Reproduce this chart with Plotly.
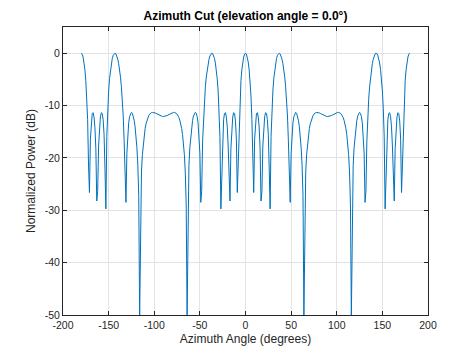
import plotly.graph_objects as go

# Azimuth angles, 1-degree grid from -180 to 180
azimuth_deg = list(range(-180, 181))

# Normalized power (dB) read per degree
power_db = [
    # -180 .. -90
    0.00, -0.18, -0.74, -1.71, -3.16, -5.22, -8.16, -12.67, -21.55, -26.61,
    -16.41, -12.97, -11.55, -11.36, -12.20, -14.26, -18.26, -28.23, -26.36, -17.74,
    -14.05, -12.15, -11.36, -11.51, -12.72, -15.50, -22.10, -29.74, -15.93, -10.56,
    -7.21, -4.86, -3.15, -1.89, -1.00, -0.41, -0.08, 0.00, -0.15, -0.53,
    -1.15, -2.01, -3.14, -4.58, -6.42, -8.80, -11.99, -16.74, -26.29, -28.49,
    -19.09, -15.35, -13.29, -12.11, -11.49, -11.30, -11.48, -11.99, -12.83, -14.06,
    -15.74, -18.06, -21.44, -27.19, -50.26, -28.83, -22.69, -19.35, -17.14, -15.55,
    -14.37, -13.48, -12.80, -12.28, -11.91, -11.64, -11.46, -11.35, -11.31, -11.31,
    -11.35, -11.42, -11.51, -11.61, -11.72, -11.82, -11.91, -11.99, -12.05, -12.08, -12.10,
    # -89 .. 0
    -12.08, -12.05, -11.99, -11.91, -11.82, -11.72, -11.61, -11.51, -11.42, -11.35,
    -11.31, -11.31, -11.35, -11.46, -11.64, -11.91, -12.28, -12.80, -13.48, -14.37,
    -15.55, -17.14, -19.35, -22.69, -28.83, -50.26, -27.19, -21.44, -18.06, -15.74,
    -14.06, -12.83, -11.99, -11.48, -11.30, -11.49, -12.11, -13.29, -15.35, -19.09,
    -28.49, -26.29, -16.74, -11.99, -8.80, -6.42, -4.58, -3.14, -2.01, -1.15,
    -0.53, -0.15, 0.00, -0.08, -0.41, -1.00, -1.89, -3.15, -4.86, -7.21,
    -10.56, -15.93, -29.74, -22.10, -15.50, -12.72, -11.51, -11.36, -12.15, -14.05,
    -17.74, -26.36, -28.23, -18.26, -14.26, -12.20, -11.36, -11.55, -12.97, -16.41,
    -26.61, -21.55, -12.67, -8.16, -5.22, -3.16, -1.71, -0.74, -0.18, 0.00,
    # 1 .. 90
    -0.18, -0.74, -1.71, -3.16, -5.22, -8.16, -12.67, -21.55, -26.61,
    -16.41, -12.97, -11.55, -11.36, -12.20, -14.26, -18.26, -28.23, -26.36, -17.74,
    -14.05, -12.15, -11.36, -11.51, -12.72, -15.50, -22.10, -29.74, -15.93, -10.56,
    -7.21, -4.86, -3.15, -1.89, -1.00, -0.41, -0.08, 0.00, -0.15, -0.53,
    -1.15, -2.01, -3.14, -4.58, -6.42, -8.80, -11.99, -16.74, -26.29, -28.49,
    -19.09, -15.35, -13.29, -12.11, -11.49, -11.30, -11.48, -11.99, -12.83, -14.06,
    -15.74, -18.06, -21.44, -27.19, -50.26, -28.83, -22.69, -19.35, -17.14, -15.55,
    -14.37, -13.48, -12.80, -12.28, -11.91, -11.64, -11.46, -11.35, -11.31, -11.31,
    -11.35, -11.42, -11.51, -11.61, -11.72, -11.82, -11.91, -11.99, -12.05, -12.08, -12.10,
    # 91 .. 180
    -12.08, -12.05, -11.99, -11.91, -11.82, -11.72, -11.61, -11.51, -11.42, -11.35,
    -11.31, -11.31, -11.35, -11.46, -11.64, -11.91, -12.28, -12.80, -13.48, -14.37,
    -15.55, -17.14, -19.35, -22.69, -28.83, -50.26, -27.19, -21.44, -18.06, -15.74,
    -14.06, -12.83, -11.99, -11.48, -11.30, -11.49, -12.11, -13.29, -15.35, -19.09,
    -28.49, -26.29, -16.74, -11.99, -8.80, -6.42, -4.58, -3.14, -2.01, -1.15,
    -0.53, -0.15, 0.00, -0.08, -0.41, -1.00, -1.89, -3.15, -4.86, -7.21,
    -10.56, -15.93, -29.74, -22.10, -15.50, -12.72, -11.51, -11.36, -12.15, -14.05,
    -17.74, -26.36, -28.23, -18.26, -14.26, -12.20, -11.36, -11.55, -12.97, -16.41,
    -26.61, -21.55, -12.67, -8.16, -5.22, -3.16, -1.71, -0.74, -0.18, 0.00,
]
assert len(power_db) == len(azimuth_deg)

x_tick_vals = [-200, -150, -100, -50, 0, 50, 100, 150, 200]
x_tick_text = ["-200", "-150", "-100", "-50", "0", "50", "100", "150", "200"]
y_tick_vals = [-50, -40, -30, -20, -10, 0]
y_tick_text = ["-50", "-40", "-30", "-20", "-10", "0"]

title_text = "<b>Azimuth Cut (elevation angle = 0.0°)</b>"
x_label = "Azimuth Angle (degrees)"
y_label = "Normalized Power (dB)"

FONT = "Liberation Sans, Arial, Helvetica, sans-serif"
AXC = "#262626"

fig = go.Figure()
fig.add_trace(go.Scatter(
    x=azimuth_deg, y=power_db, mode="lines",
    line=dict(color="#0072BD", width=1),
    showlegend=False, hoverinfo="skip",
))

axis_common = dict(
    showline=True, linecolor=AXC, linewidth=1, mirror="ticks",
    ticks="inside", ticklen=4, tickwidth=1, tickcolor=AXC,
    showgrid=True, gridcolor="#e3e3e3", gridwidth=1,
    zeroline=False, automargin=False,
    tickfont=dict(family=FONT, size=10.5, color=AXC),
)

fig.update_layout(
    width=474, height=355,
    margin=dict(l=63, r=46, t=27, b=40, autoexpand=False),
    paper_bgcolor="white", plot_bgcolor="white",
    font=dict(family=FONT, color=AXC),
    title=dict(text=title_text, x=0.5, xref="paper", xanchor="center",
               y=1 - 16 / 355, yref="container", yanchor="middle",
               font=dict(family=FONT, size=12, color="black")),
    xaxis=dict(range=[-200, 200], tickvals=x_tick_vals, ticktext=x_tick_text,
               title=dict(text=x_label, font=dict(family=FONT, size=12, color=AXC), standoff=5),
               **axis_common),
    yaxis=dict(range=[-50, 5], tickvals=y_tick_vals, ticktext=y_tick_text,
               title=dict(text=y_label, font=dict(family=FONT, size=12, color=AXC), standoff=6),
               **axis_common),
)

fig.write_html(
    "out.html",
    config={"displayModeBar": False},
    post_script="document.body.style.margin='0px';document.body.style.overflow='hidden';",
)
